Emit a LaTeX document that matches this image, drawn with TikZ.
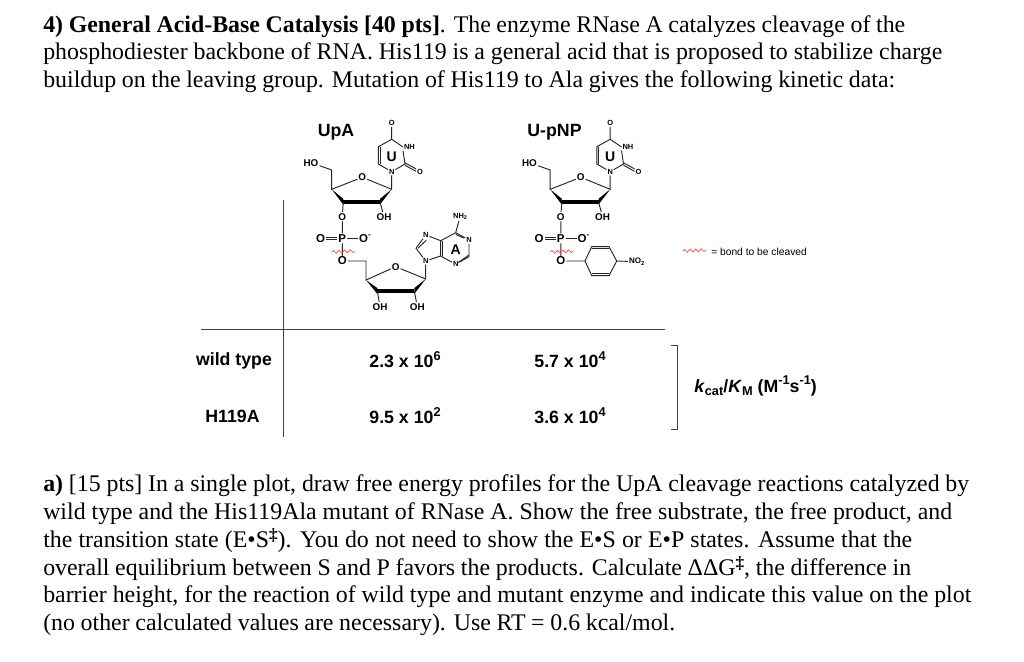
\documentclass[tikz,border=0pt]{standalone}
\usepackage{fontspec}
\setmainfont{Liberation Serif}
\setsansfont{Liberation Sans}
\usetikzlibrary{decorations.pathmorphing}
\newcommand{\upsc}[1]{\raisebox{.42em}{\fontsize{.72em}{.75em}\selectfont #1}}
\newcommand{\dnsc}[1]{\raisebox{-.18em}{\fontsize{.72em}{.75em}\selectfont #1}}
\newcommand{\dgr}{\raisebox{.28em}{\fontsize{.72em}{.75em}\selectfont\bfseries ‡}}
\newcommand{\pxline}[4]{\node[prose] (#1) at (43,#2) {\makebox[\dimexpr #3pt*3/4\relax][s]{#4}};}
\newcommand{\ribose}{%
  \node[big] (ho) at (311,162.7) {HO};
  \coordinate (c5) at (331.7,170);
  \coordinate (c4) at (331.7,189.3);
  \coordinate (c3) at (343.3,201.7);
  \coordinate (c2) at (380,201.7);
  \coordinate (c1) at (391.7,189.3);
  \node[big] (o4) at (362.3,177.3) {O};
  \node[big] (oh) at (384,216.7) {OH};
  \node[big] (o3) at (342.3,216.7) {O};
  \node[tiny] (n1) at (391.7,171.7) {N};
  \coordinate (u6) at (378.3,164);
  \coordinate (u5) at (378.3,146.7);
  \coordinate (u4) at (391.7,139.3);
  \node[tiny,anchor=west] (n3) at (403,147) {NH};
  \coordinate (u2) at (405,164);
  \node[tiny] (o2) at (420,172.3) {O};
  \node[tiny] (o44) at (391.7,123.3) {O};
  \node[letter] (ul) at (391.7,156.7) {U};
  \node[big,font=\sffamily\bfseries\fontsize{8.6pt}{9pt}\selectfont] (p) at (342.3,238.3) {P};
  \node[big,font=\sffamily\bfseries\fontsize{8.6pt}{9pt}\selectfont] (po) at (320.7,238.3) {O};
  \node[big,font=\sffamily\bfseries\fontsize{8.6pt}{9pt}\selectfont] (pm) at (365,238.3) {O\upsc{-}};
  \node[big,font=\sffamily\bfseries\fontsize{8.6pt}{9pt}\selectfont] (ob) at (342.3,261) {O};
  \draw[bond] (ho) -- (c5) -- (c4) -- (o4) -- (c1) -- (n1) -- (u6) -- (u5) -- (u4) -- (o44);
  \draw[bond] (u4) -- (n3.west) (n3.south west) -- (u2) -- (n1);
  \draw[bond] ([xshift=1.5pt]u6) -- ([xshift=1.5pt]u5);
  \draw[bond,transform canvas={yshift=.9pt}] (u2) -- (o2);
  \draw[bond,transform canvas={yshift=-.9pt}] (u2) -- (o2);
  \fill (c4) -- ([yshift=2.2]c3) -- ([yshift=-2.2]c3) -- cycle;
  \draw[thickbond] (c3) -- (c2);
  \fill (c1) -- ([yshift=2.2]c2) -- ([yshift=-2.2]c2) -- cycle;
  \draw[bond] (c2) -- (oh);
  \draw[bond] (c3) -- (o3) -- (p) -- (ob);
  \draw[bond] (p) -- (pm);
  \draw[bond,transform canvas={yshift=.9pt}] (p) -- (po);
  \draw[bond,transform canvas={yshift=-.9pt}] (p) -- (po);
  \coordinate (sq1) at (331.7,252);
  \coordinate (sq2) at (355,251);
  \draw[squig] (sq1) -- (sq2);
}
\tikzset{
  x=0.75pt,y=-0.75pt,
  prose/.style={anchor=base west,inner sep=0,font=\fontsize{17.9pt}{20pt}\selectfont},
  lab/.style={inner sep=0,font=\sffamily\bfseries\fontsize{13.3pt}{14pt}\selectfont},
  big/.style={inner sep=.6pt,font=\sffamily\bfseries\fontsize{7.4pt}{8pt}\selectfont},
  tiny/.style={inner sep=.6pt,font=\sffamily\bfseries\fontsize{5.6pt}{7pt}\selectfont},
  letter/.style={inner sep=0,font=\sffamily\bfseries\fontsize{10.5pt}{11pt}\selectfont},
  bond/.style={draw=black!85,line width=.7pt},
  thickbond/.style={draw=black,line width=3pt},
  squig/.style={draw=red!75!white,line width=.5pt,decorate,decoration={snake,segment length=4.2pt,amplitude=1.1pt}},
  rule/.style={draw=black!75,line width=.75pt},
}
\begin{document}
\begin{tikzpicture}
\useasboundingbox[fill=white] (0,0) rectangle (1024,661);
% prose
\pxline{a1}{32}{862}{\textbf{4) General Acid-Base Catalysis [40 pts]}. The enzyme RNase A catalyzes cleavage of the}
\pxline{a2}{59.5}{899}{phosphodiester backbone of RNA. His119 is a general acid that is proposed to stabilize charge}
\pxline{a3}{87}{852}{buildup on the leaving group. Mutation of His119 to Ala gives the following kinetic data:}
\pxline{b1}{491}{926}{\textbf{a)} [15 pts] In a single plot, draw free energy profiles for the UpA cleavage reactions catalyzed by}
\pxline{b2}{519}{909}{wild type and the His119Ala mutant of RNase A. Show the free substrate, the free product, and}
\pxline{b3}{547}{869}{the transition state (E•S\dgr). You do not need to show the E•S or E•P states. Assume that the}
\pxline{b4}{575}{868}{overall equilibrium between S and P favors the products. Calculate ΔΔG\dgr, the difference in}
\pxline{b5}{602}{928}{barrier height, for the reaction of wild type and mutant enzyme and indicate this value on the plot}
\pxline{b6}{630}{632}{(no other calculated values are necessary). Use RT = 0.6 kcal/mol.}
% compound names
\node[lab] (upa) at (336,132) {UpA};
\node[lab] (upnp) at (554.5,132) {U-pNP};
% UpA
\begin{scope}[name prefix=u-]
\ribose
\node[big] (oh1) at (380,306.7) {OH};
\node[big] (oh2) at (417.3,306.7) {OH};
\node[big] (o4b) at (395.7,266.7) {O};
\coordinate (d5) at (366,261);
\coordinate (d4) at (366,280);
\coordinate (d3) at (377.3,291);
\coordinate (d2) at (414.3,291);
\coordinate (d1) at (425.7,279);
\node[tiny] (n9) at (425.7,261) {N};
\coordinate (c8) at (416,248.3);
\node[tiny] (n7) at (425.7,235) {N};
\coordinate (a5) at (440.7,240.7);
\coordinate (a4) at (440.7,256);
\node[tiny] (n3a) at (455.7,264.3) {N};
\coordinate (a2) at (469,256.7);
\node[tiny] (n1a) at (469,240) {N};
\coordinate (a6) at (455.7,232.7);
\node[tiny] (nh2) at (460,216.7) {NH\dnsc{2}};
\node[letter] (al) at (455.7,250) {A};
\draw[bond] (ob) -- (d5) -- (d4) -- (o4b) -- (d1) -- (n9) -- (c8) -- (n7) -- (a5) -- (a4) -- (n9);
\draw[bond] ([xshift=1.4pt]c8) -- ([xshift=.4pt,yshift=-1.2pt]n7.south);
\draw[bond] (a5) -- (a6) -- (n1a) -- (a2) -- (n3a) -- (a4);
\draw[bond] ([xshift=1.4pt]a5) -- ([xshift=1.4pt]a4);
\draw[bond] ([yshift=-1.3pt]a6) -- ([yshift=-1.3pt,xshift=-1pt]n1a.north west);
\draw[bond] ([yshift=1.3pt]a2) -- ([yshift=1.3pt,xshift=-1pt]n3a.east);
\draw[bond] (a6) -- (nh2);
\fill (d4) -- ([yshift=2.2]d3) -- ([yshift=-2.2]d3) -- cycle;
\draw[thickbond] (d3) -- (d2);
\fill (d1) -- ([yshift=2.2]d2) -- ([yshift=-2.2]d2) -- cycle;
\draw[bond] (d3) -- (oh1);
\draw[bond] (d2) -- (oh2);
\end{scope}
% U-pNP
\begin{scope}[xshift=163.875pt,name prefix=p-]
\ribose
\end{scope}
\begin{scope}[name prefix=b-]
\coordinate (r1) at (585,261);
\coordinate (r2) at (591.7,246.7);
\coordinate (r3) at (609,246.7);
\coordinate (r4) at (616.7,261);
\coordinate (r5) at (609,275.7);
\coordinate (r6) at (591.7,275.7);
\node[tiny,anchor=west,font=\sffamily\bfseries\fontsize{6pt}{7pt}\selectfont] (no2) at (628,261.7) {NO\dnsc{2}};
\draw[bond] (p-ob) -- (r1) -- (r2) -- (r3) -- (r4) -- (r5) -- (r6) -- (r1);
\draw[bond] (r4) -- (no2);
\draw[bond] ([yshift=-1.5pt]r2) -- ([yshift=-1.5pt]r3);
\draw[bond] ([yshift=1.5pt]r6) -- ([yshift=1.5pt]r5);
\end{scope}
% legend
\coordinate (lg1) at (682.7,251);
\coordinate (lg2) at (706,250);
\draw[squig] (lg1) -- (lg2);
\node[inner sep=0,anchor=west,font=\sffamily\fontsize{7.7pt}{8pt}\selectfont] (lgt) at (711,251.5) {= bond to be cleaved};
% table
\coordinate (v1) at (283,200);
\coordinate (v2) at (283,437);
\coordinate (h1) at (201,329);
\coordinate (h2) at (665,329);
\draw[rule] (v1) -- (v2);
\draw[rule] (h1) -- (h2);
\node[lab] (wt) at (234,361) {wild type};
\node[lab] (h119) at (232.5,416.5) {H119A};
\node[lab] (v1a) at (405,359.5) {2.3 x 10\upsc{6}};
\node[lab] (v1b) at (570,359.5) {5.7 x 10\upsc{4}};
\node[lab] (v2a) at (405,415.5) {9.5 x 10\upsc{2}};
\node[lab] (v2b) at (570,415.5) {3.6 x 10\upsc{4}};
\coordinate (br1) at (671,345);
\coordinate (br2) at (677,345);
\coordinate (br3) at (677,429);
\coordinate (br4) at (671,429);
\draw[rule] (br1) -- (br2) -- (br3) -- (br4);
\node[lab,anchor=west] (kk) at (694,386) {\textit{k}\dnsc{cat}/\textit{K}\dnsc{M} (M\upsc{-1}s\upsc{-1})\hspace{.1em}};
\end{tikzpicture}
\end{document}
